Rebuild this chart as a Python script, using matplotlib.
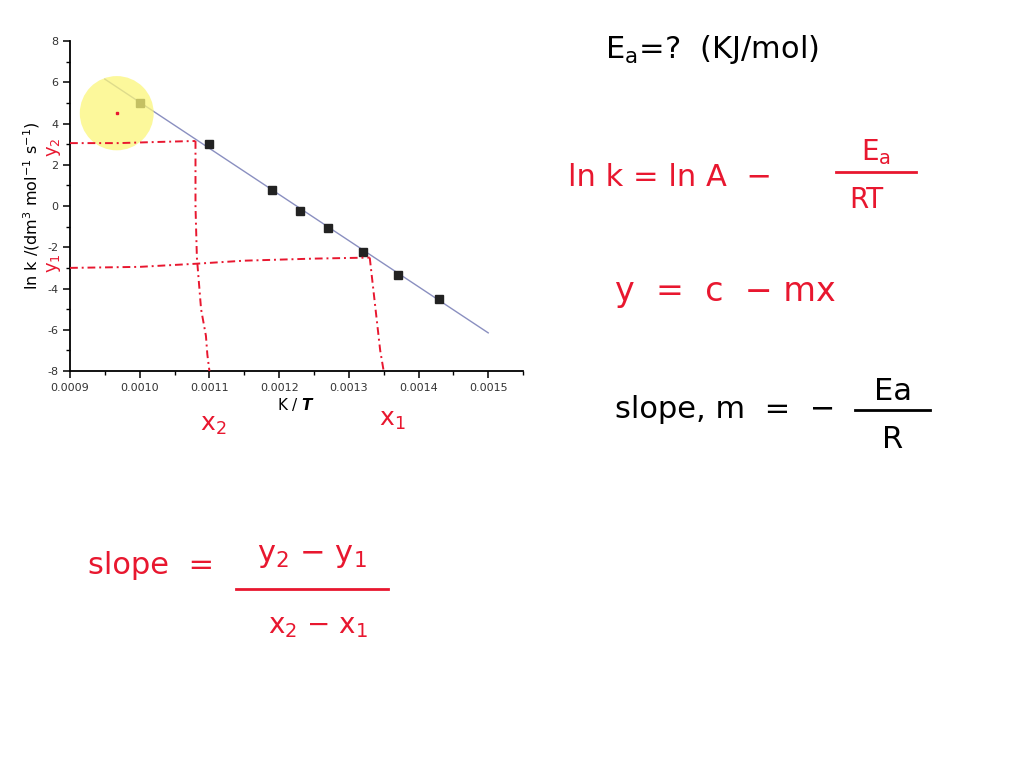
import numpy as np
import matplotlib
matplotlib.use("Agg")
import matplotlib.pyplot as plt
from matplotlib.patches import Ellipse
from matplotlib.lines import Line2D
from matplotlib.ticker import MultipleLocator, FormatStrFormatter

plt.rcParams["axes.unicode_minus"] = False

# data
inv_T = [0.00100, 0.00110, 0.00119, 0.00123, 0.00127, 0.00132, 0.00137, 0.00143]
ln_k = [5.0, 3.0, 0.78, -0.25, -1.05, -2.25, -3.35, -4.5]
fit_x = [0.00095, 0.00150]
fit_y = [6.15, -6.15]

# hand-drawn red guide lines (data coords)
guide_y2_x = [0.00090, 0.00097, 0.00102, 0.001075, 0.00108]
guide_y2_y = [3.05, 3.05, 3.1, 3.15, 3.15]
guide_x2_x = [0.00108, 0.00108, 0.001082, 0.001088, 0.001095, 0.001097, 0.0011]
guide_x2_y = [3.15, 0.0, -2.5, -5.0, -6.3, -7.2, -8.0]
guide_y1_x = [0.00090, 0.00100, 0.00108, 0.00115, 0.00125, 0.00133]
guide_y1_y = [-3.0, -2.95, -2.8, -2.65, -2.55, -2.5]
guide_x1_x = [0.00133, 0.001335, 0.00134, 0.001345, 0.00135]
guide_x1_y = [-2.5, -4.0, -5.5, -7.0, -8.0]

RED = "#e8172f"

fig = plt.figure(figsize=(10.24, 7.68), dpi=100)
ax = fig.add_axes([0.0684, 0.5169, 0.4424, 0.4297])

ax.plot(fit_x, fit_y, color="#8a8fc0", lw=1.0, zorder=2)
ax.plot(inv_T, ln_k, ls="none", marker="s", ms=5.5, color="#222222", zorder=3)

# yellow highlighter circle
ax.add_patch(Ellipse((0.000967, 4.5), 0.000106, 3.6, color="#fbf67a",
                     alpha=0.75, lw=0, zorder=4))
ax.plot([0.000968], [4.5], marker="s", ms=1.5, color=RED, zorder=5)

for gx, gy in [(guide_y2_x, guide_y2_y), (guide_x2_x, guide_x2_y),
               (guide_y1_x, guide_y1_y), (guide_x1_x, guide_x1_y)]:
    ax.plot(gx, gy, color=RED, lw=1.4, ls=(0, (4, 2, 1, 2)), zorder=5,
            clip_on=False)

ax.set_xlim(0.0009, 0.00155)
ax.set_ylim(-8, 8)
ax.xaxis.set_major_locator(MultipleLocator(0.0001))
ax.xaxis.set_minor_locator(MultipleLocator(0.00005))
ax.xaxis.set_major_formatter(FormatStrFormatter("%.4f"))
ax.yaxis.set_major_locator(MultipleLocator(2))
ax.yaxis.set_minor_locator(MultipleLocator(1))
for s in ["top", "right"]:
    ax.spines[s].set_visible(False)
for s in ["left", "bottom"]:
    ax.spines[s].set_linewidth(1.3)
ax.tick_params(which="major", direction="out", length=5, width=1.1,
               labelsize=8, labelcolor="#333333")
ax.tick_params(which="minor", direction="out", length=3, width=1.0)
ax.set_xlabel(r"K / $\boldsymbol{T}$", fontsize=11, labelpad=2)
ax.set_ylabel(r"ln k /(dm$^3$ mol$^{-1}$ s$^{-1}$)", fontsize=11.5, labelpad=4)

# handwritten labels on the chart
fig.text(54 / 1024, 1 - 147 / 768, "y$_2$", color=RED, fontsize=13,
         rotation=90, ha="center", va="center")
fig.text(54 / 1024, 1 - 263 / 768, "y$_1$", color=RED, fontsize=13,
         rotation=90, ha="center", va="center")
fig.text(213 / 1024, 1 - 425 / 768, "x$_2$", color=RED, fontsize=18,
         ha="center", va="center")
fig.text(392 / 1024, 1 - 420 / 768, "x$_1$", color=RED, fontsize=18,
         ha="center", va="center")


def txt(x, y, s, color, size=22, ha="left"):
    fig.text(x / 1024, 1 - y / 768, s, color=color, fontsize=size,
             ha=ha, va="center")


def bar(x0, x1, y, color):
    fig.add_artist(Line2D([x0 / 1024, x1 / 1024], [1 - y / 768, 1 - y / 768],
                          color=color, lw=2, transform=fig.transFigure))


txt(605, 50, r"E$_\mathrm{a}$=?  (KJ/mol)", "black", 22)

txt(568, 178, "ln k = ln A  −", RED, 22)
txt(876, 152, r"E$_\mathrm{a}$", RED, 20, ha="center")
bar(836, 916, 172, RED)
txt(866, 200, "RT", RED, 20, ha="center")

txt(615, 292, "y  =  c  − mx", RED, 24)

txt(615, 410, "slope, m  =  −", "black", 22)
txt(893, 392, "Ea", "black", 22, ha="center")
bar(855, 930, 410, "black")
txt(893, 440, "R", "black", 22, ha="center")

txt(88, 565, "slope  =", RED, 22)
txt(312, 555, "y$_2$ − y$_1$", RED, 22, ha="center")
bar(236, 388, 589, RED)
txt(318, 626, "x$_2$ − x$_1$", RED, 20, ha="center")

fig.savefig("out.png", dpi=100, facecolor="white")
